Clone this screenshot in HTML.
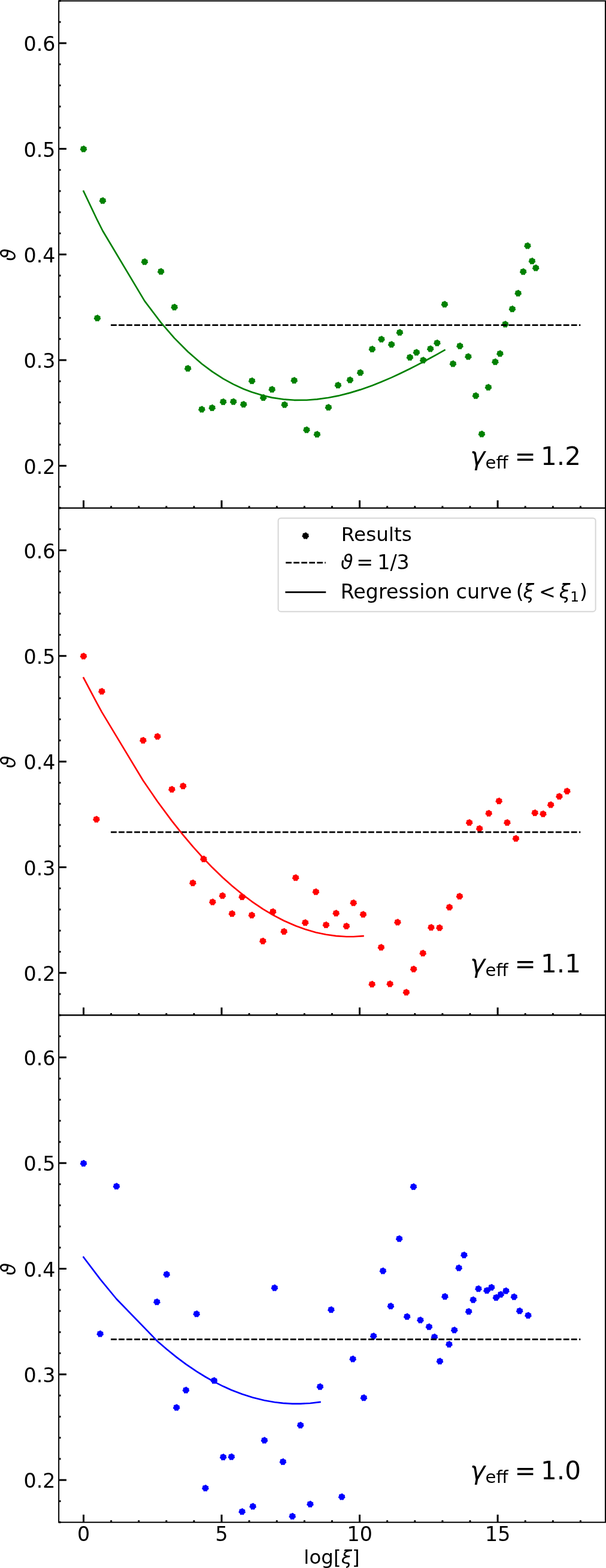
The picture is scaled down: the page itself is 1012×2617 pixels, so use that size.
<!DOCTYPE html>
<html lang="en"><head><meta charset="utf-8"><title>theta vs log xi</title>
<style>html,body{margin:0;padding:0;background:#fff}svg{display:block}</style></head>
<body>
<svg width="1012" height="2617" viewBox="0 0 1012 2617" font-family="DejaVu Sans, Liberation Sans, sans-serif">
<rect width="1012" height="2617" fill="#fff"/>
<defs><g id="mk"><circle r="4.7"/><circle r="4.9" fill="none" stroke-width="1.7" stroke-dasharray="2 2.4" /></g></defs>
<g id="panel1">
<text x="92.5" y="790.67" font-size="33.33" text-anchor="end">0.2</text>
<text x="92.5" y="614.33" font-size="33.33" text-anchor="end">0.3</text>
<text x="92.5" y="438.00" font-size="33.33" text-anchor="end">0.4</text>
<text x="92.5" y="261.67" font-size="33.33" text-anchor="end">0.5</text>
<text x="92.5" y="85.33" font-size="33.33" text-anchor="end">0.6</text>
<g stroke="#000" fill="none"><path d="M98.15 847.90h3.4" stroke-width="3"/><path d="M98.15 812.63h3.4" stroke-width="3"/><path d="M98.15 777.37h12.8" stroke-width="3"/><path d="M98.15 742.10h3.4" stroke-width="3"/><path d="M98.15 706.83h3.4" stroke-width="3"/><path d="M98.15 671.57h3.4" stroke-width="3"/><path d="M98.15 636.30h3.4" stroke-width="3"/><path d="M98.15 601.03h12.8" stroke-width="3"/><path d="M98.15 565.77h3.4" stroke-width="3"/><path d="M98.15 530.50h3.4" stroke-width="3"/><path d="M98.15 495.23h3.4" stroke-width="3"/><path d="M98.15 459.97h3.4" stroke-width="3"/><path d="M98.15 424.70h12.8" stroke-width="3"/><path d="M98.15 389.43h3.4" stroke-width="3"/><path d="M98.15 354.17h3.4" stroke-width="3"/><path d="M98.15 318.90h3.4" stroke-width="3"/><path d="M98.15 283.63h3.4" stroke-width="3"/><path d="M98.15 248.37h12.8" stroke-width="3"/><path d="M98.15 213.10h3.4" stroke-width="3"/><path d="M98.15 177.83h3.4" stroke-width="3"/><path d="M98.15 142.57h3.4" stroke-width="3"/><path d="M98.15 107.30h3.4" stroke-width="3"/><path d="M98.15 72.03h12.8" stroke-width="3"/><path d="M98.15 36.77h3.4" stroke-width="3"/><path d="M98.15 1.50h3.4" stroke-width="3"/><path d="M139.55 847.90v-12.8" stroke-width="3"/><path d="M185.66 847.90v-3.4" stroke-width="3"/><path d="M231.76 847.90v-3.4" stroke-width="3"/><path d="M277.87 847.90v-3.4" stroke-width="3"/><path d="M323.97 847.90v-3.4" stroke-width="3"/><path d="M370.07 847.90v-12.8" stroke-width="3"/><path d="M416.18 847.90v-3.4" stroke-width="3"/><path d="M462.28 847.90v-3.4" stroke-width="3"/><path d="M508.39 847.90v-3.4" stroke-width="3"/><path d="M554.50 847.90v-3.4" stroke-width="3"/><path d="M600.60 847.90v-12.8" stroke-width="3"/><path d="M646.70 847.90v-3.4" stroke-width="3"/><path d="M692.81 847.90v-3.4" stroke-width="3"/><path d="M738.91 847.90v-3.4" stroke-width="3"/><path d="M785.02 847.90v-3.4" stroke-width="3"/><path d="M831.12 847.90v-12.8" stroke-width="3"/><path d="M877.23 847.90v-3.4" stroke-width="3"/><path d="M923.34 847.90v-3.4" stroke-width="3"/><path d="M969.44 847.90v-3.4" stroke-width="3"/></g>
<g><use href="#mk" x="139.50" y="248.75" fill="#008000" stroke="#008000"/><use href="#mk" x="171.50" y="335.00" fill="#008000" stroke="#008000"/><use href="#mk" x="241.50" y="437.00" fill="#008000" stroke="#008000"/><use href="#mk" x="268.75" y="453.25" fill="#008000" stroke="#008000"/><use href="#mk" x="162.50" y="531.00" fill="#008000" stroke="#008000"/><use href="#mk" x="291.25" y="512.75" fill="#008000" stroke="#008000"/><use href="#mk" x="313.75" y="615.00" fill="#008000" stroke="#008000"/><use href="#mk" x="337.00" y="683.25" fill="#008000" stroke="#008000"/><use href="#mk" x="354.25" y="680.75" fill="#008000" stroke="#008000"/><use href="#mk" x="372.75" y="670.75" fill="#008000" stroke="#008000"/><use href="#mk" x="389.75" y="670.50" fill="#008000" stroke="#008000"/><use href="#mk" x="406.75" y="675.00" fill="#008000" stroke="#008000"/><use href="#mk" x="420.75" y="635.75" fill="#008000" stroke="#008000"/><use href="#mk" x="439.75" y="663.75" fill="#008000" stroke="#008000"/><use href="#mk" x="454.25" y="650.00" fill="#008000" stroke="#008000"/><use href="#mk" x="475.25" y="675.50" fill="#008000" stroke="#008000"/><use href="#mk" x="491.25" y="635.00" fill="#008000" stroke="#008000"/><use href="#mk" x="512.00" y="717.50" fill="#008000" stroke="#008000"/><use href="#mk" x="529.50" y="725.00" fill="#008000" stroke="#008000"/><use href="#mk" x="548.50" y="680.00" fill="#008000" stroke="#008000"/><use href="#mk" x="564.50" y="643.00" fill="#008000" stroke="#008000"/><use href="#mk" x="584.50" y="634.25" fill="#008000" stroke="#008000"/><use href="#mk" x="601.75" y="622.00" fill="#008000" stroke="#008000"/><use href="#mk" x="621.50" y="582.75" fill="#008000" stroke="#008000"/><use href="#mk" x="637.00" y="566.25" fill="#008000" stroke="#008000"/><use href="#mk" x="653.75" y="575.00" fill="#008000" stroke="#008000"/><use href="#mk" x="667.50" y="555.00" fill="#008000" stroke="#008000"/><use href="#mk" x="684.50" y="596.50" fill="#008000" stroke="#008000"/><use href="#mk" x="695.50" y="588.25" fill="#008000" stroke="#008000"/><use href="#mk" x="706.75" y="601.25" fill="#008000" stroke="#008000"/><use href="#mk" x="718.75" y="582.25" fill="#008000" stroke="#008000"/><use href="#mk" x="730.00" y="572.50" fill="#008000" stroke="#008000"/><use href="#mk" x="742.50" y="508.00" fill="#008000" stroke="#008000"/><use href="#mk" x="756.50" y="607.25" fill="#008000" stroke="#008000"/><use href="#mk" x="768.00" y="577.50" fill="#008000" stroke="#008000"/><use href="#mk" x="782.00" y="595.25" fill="#008000" stroke="#008000"/><use href="#mk" x="794.50" y="660.50" fill="#008000" stroke="#008000"/><use href="#mk" x="804.50" y="724.50" fill="#008000" stroke="#008000"/><use href="#mk" x="815.50" y="646.50" fill="#008000" stroke="#008000"/><use href="#mk" x="827.00" y="604.00" fill="#008000" stroke="#008000"/><use href="#mk" x="835.00" y="590.25" fill="#008000" stroke="#008000"/><use href="#mk" x="843.75" y="541.25" fill="#008000" stroke="#008000"/><use href="#mk" x="855.50" y="515.75" fill="#008000" stroke="#008000"/><use href="#mk" x="865.25" y="489.50" fill="#008000" stroke="#008000"/><use href="#mk" x="873.75" y="453.50" fill="#008000" stroke="#008000"/><use href="#mk" x="881.00" y="410.25" fill="#008000" stroke="#008000"/><use href="#mk" x="888.50" y="435.75" fill="#008000" stroke="#008000"/><use href="#mk" x="894.75" y="447.25" fill="#008000" stroke="#008000"/></g>
<path d="M185.1 542.56H969.4" fill="none" stroke="#000" stroke-width="2.7" stroke-dasharray="9.75 3.28"/>
<path d="M139.50 319.03 L162.50 367.47 L171.50 385.26 L241.50 502.38 L268.75 538.39 L291.25 564.34 L313.75 587.02 L337.00 607.19 L354.25 620.08 L372.75 632.04 L389.75 641.38 L406.75 649.22 L420.75 654.57 L439.75 660.33 L454.25 663.60 L475.25 666.69 L491.25 667.80 L512.00 667.73 L529.50 666.42 L548.50 663.79 L564.50 660.66 L584.50 655.63 L601.75 650.39 L621.50 643.44 L637.00 637.33 L653.75 630.14 L667.50 623.82 L684.50 615.55 L695.50 609.94 L706.75 604.03 L718.75 597.53 L730.00 591.29 L742.50 584.21" fill="none" stroke="#008000" stroke-width="2.65" stroke-linejoin="round" stroke-linecap="square"/>
<rect x="98.15" y="1.50" width="912.85" height="846.40" fill="none" stroke="#000" stroke-width="2"/>
<text transform="translate(26.2 425.30) rotate(-90)" font-size="33.33" font-style="italic" text-anchor="middle">ϑ</text>
<text y="776.40" font-size="42.2"><tspan x="785.2" font-style="italic">γ</tspan><tspan x="810.6" font-size="29.17" dy="5.8">eff</tspan><tspan x="859.5" dy="-5.8">=</tspan><tspan x="903">1.2</tspan></text>
</g>
<g id="panel2">
<text x="92.5" y="1637.07" font-size="33.33" text-anchor="end">0.2</text>
<text x="92.5" y="1460.73" font-size="33.33" text-anchor="end">0.3</text>
<text x="92.5" y="1284.40" font-size="33.33" text-anchor="end">0.4</text>
<text x="92.5" y="1108.07" font-size="33.33" text-anchor="end">0.5</text>
<text x="92.5" y="931.73" font-size="33.33" text-anchor="end">0.6</text>
<g stroke="#000" fill="none"><path d="M98.15 1694.30h3.4" stroke-width="3"/><path d="M98.15 1659.03h3.4" stroke-width="3"/><path d="M98.15 1623.77h12.8" stroke-width="3"/><path d="M98.15 1588.50h3.4" stroke-width="3"/><path d="M98.15 1553.23h3.4" stroke-width="3"/><path d="M98.15 1517.97h3.4" stroke-width="3"/><path d="M98.15 1482.70h3.4" stroke-width="3"/><path d="M98.15 1447.43h12.8" stroke-width="3"/><path d="M98.15 1412.17h3.4" stroke-width="3"/><path d="M98.15 1376.90h3.4" stroke-width="3"/><path d="M98.15 1341.63h3.4" stroke-width="3"/><path d="M98.15 1306.37h3.4" stroke-width="3"/><path d="M98.15 1271.10h12.8" stroke-width="3"/><path d="M98.15 1235.83h3.4" stroke-width="3"/><path d="M98.15 1200.57h3.4" stroke-width="3"/><path d="M98.15 1165.30h3.4" stroke-width="3"/><path d="M98.15 1130.03h3.4" stroke-width="3"/><path d="M98.15 1094.77h12.8" stroke-width="3"/><path d="M98.15 1059.50h3.4" stroke-width="3"/><path d="M98.15 1024.23h3.4" stroke-width="3"/><path d="M98.15 988.97h3.4" stroke-width="3"/><path d="M98.15 953.70h3.4" stroke-width="3"/><path d="M98.15 918.43h12.8" stroke-width="3"/><path d="M98.15 883.17h3.4" stroke-width="3"/><path d="M98.15 847.90h3.4" stroke-width="3"/><path d="M139.55 1694.30v-12.8" stroke-width="3"/><path d="M185.66 1694.30v-3.4" stroke-width="3"/><path d="M231.76 1694.30v-3.4" stroke-width="3"/><path d="M277.87 1694.30v-3.4" stroke-width="3"/><path d="M323.97 1694.30v-3.4" stroke-width="3"/><path d="M370.07 1694.30v-12.8" stroke-width="3"/><path d="M416.18 1694.30v-3.4" stroke-width="3"/><path d="M462.28 1694.30v-3.4" stroke-width="3"/><path d="M508.39 1694.30v-3.4" stroke-width="3"/><path d="M554.50 1694.30v-3.4" stroke-width="3"/><path d="M600.60 1694.30v-12.8" stroke-width="3"/><path d="M646.70 1694.30v-3.4" stroke-width="3"/><path d="M692.81 1694.30v-3.4" stroke-width="3"/><path d="M738.91 1694.30v-3.4" stroke-width="3"/><path d="M785.02 1694.30v-3.4" stroke-width="3"/><path d="M831.12 1694.30v-12.8" stroke-width="3"/><path d="M877.23 1694.30v-3.4" stroke-width="3"/><path d="M923.34 1694.30v-3.4" stroke-width="3"/><path d="M969.44 1694.30v-3.4" stroke-width="3"/></g>
<g><use href="#mk" x="139.50" y="1095.25" fill="#ff0000" stroke="#ff0000"/><use href="#mk" x="170.00" y="1154.00" fill="#ff0000" stroke="#ff0000"/><use href="#mk" x="239.00" y="1235.75" fill="#ff0000" stroke="#ff0000"/><use href="#mk" x="263.00" y="1229.25" fill="#ff0000" stroke="#ff0000"/><use href="#mk" x="287.00" y="1317.50" fill="#ff0000" stroke="#ff0000"/><use href="#mk" x="305.75" y="1312.00" fill="#ff0000" stroke="#ff0000"/><use href="#mk" x="161.00" y="1367.50" fill="#ff0000" stroke="#ff0000"/><use href="#mk" x="340.00" y="1433.75" fill="#ff0000" stroke="#ff0000"/><use href="#mk" x="322.00" y="1473.75" fill="#ff0000" stroke="#ff0000"/><use href="#mk" x="355.00" y="1505.50" fill="#ff0000" stroke="#ff0000"/><use href="#mk" x="371.50" y="1495.00" fill="#ff0000" stroke="#ff0000"/><use href="#mk" x="387.50" y="1525.00" fill="#ff0000" stroke="#ff0000"/><use href="#mk" x="404.25" y="1497.00" fill="#ff0000" stroke="#ff0000"/><use href="#mk" x="420.50" y="1527.50" fill="#ff0000" stroke="#ff0000"/><use href="#mk" x="439.00" y="1570.75" fill="#ff0000" stroke="#ff0000"/><use href="#mk" x="455.75" y="1521.75" fill="#ff0000" stroke="#ff0000"/><use href="#mk" x="474.25" y="1554.75" fill="#ff0000" stroke="#ff0000"/><use href="#mk" x="493.75" y="1465.00" fill="#ff0000" stroke="#ff0000"/><use href="#mk" x="509.75" y="1540.00" fill="#ff0000" stroke="#ff0000"/><use href="#mk" x="527.50" y="1488.50" fill="#ff0000" stroke="#ff0000"/><use href="#mk" x="544.50" y="1543.75" fill="#ff0000" stroke="#ff0000"/><use href="#mk" x="561.25" y="1524.25" fill="#ff0000" stroke="#ff0000"/><use href="#mk" x="578.50" y="1545.75" fill="#ff0000" stroke="#ff0000"/><use href="#mk" x="590.25" y="1507.00" fill="#ff0000" stroke="#ff0000"/><use href="#mk" x="606.50" y="1526.25" fill="#ff0000" stroke="#ff0000"/><use href="#mk" x="621.25" y="1642.75" fill="#ff0000" stroke="#ff0000"/><use href="#mk" x="636.50" y="1581.25" fill="#ff0000" stroke="#ff0000"/><use href="#mk" x="651.25" y="1642.25" fill="#ff0000" stroke="#ff0000"/><use href="#mk" x="664.00" y="1539.25" fill="#ff0000" stroke="#ff0000"/><use href="#mk" x="678.50" y="1656.25" fill="#ff0000" stroke="#ff0000"/><use href="#mk" x="690.75" y="1617.50" fill="#ff0000" stroke="#ff0000"/><use href="#mk" x="706.25" y="1591.00" fill="#ff0000" stroke="#ff0000"/><use href="#mk" x="720.00" y="1548.00" fill="#ff0000" stroke="#ff0000"/><use href="#mk" x="734.00" y="1548.50" fill="#ff0000" stroke="#ff0000"/><use href="#mk" x="750.50" y="1514.25" fill="#ff0000" stroke="#ff0000"/><use href="#mk" x="767.50" y="1496.00" fill="#ff0000" stroke="#ff0000"/><use href="#mk" x="783.75" y="1373.00" fill="#ff0000" stroke="#ff0000"/><use href="#mk" x="800.75" y="1383.00" fill="#ff0000" stroke="#ff0000"/><use href="#mk" x="816.25" y="1357.50" fill="#ff0000" stroke="#ff0000"/><use href="#mk" x="833.25" y="1337.00" fill="#ff0000" stroke="#ff0000"/><use href="#mk" x="847.00" y="1373.00" fill="#ff0000" stroke="#ff0000"/><use href="#mk" x="861.50" y="1399.50" fill="#ff0000" stroke="#ff0000"/><use href="#mk" x="893.25" y="1356.75" fill="#ff0000" stroke="#ff0000"/><use href="#mk" x="907.00" y="1358.50" fill="#ff0000" stroke="#ff0000"/><use href="#mk" x="919.75" y="1343.25" fill="#ff0000" stroke="#ff0000"/><use href="#mk" x="934.00" y="1329.25" fill="#ff0000" stroke="#ff0000"/><use href="#mk" x="947.00" y="1320.50" fill="#ff0000" stroke="#ff0000"/></g>
<path d="M185.1 1388.96H969.4" fill="none" stroke="#000" stroke-width="2.7" stroke-dasharray="9.75 3.28"/>
<path d="M139.50 1131.21 L161.00 1171.94 L170.00 1188.40 L239.00 1302.79 L263.00 1337.71 L287.00 1370.12 L305.75 1393.69 L322.00 1412.88 L340.00 1432.79 L355.00 1448.30 L371.50 1464.23 L387.50 1478.55 L404.25 1492.34 L420.50 1504.55 L439.00 1517.04 L455.75 1527.07 L474.25 1536.73 L493.75 1545.29 L509.75 1551.07 L527.50 1556.18 L544.50 1559.79 L561.25 1562.11 L578.50 1563.22 L590.25 1563.24 L606.50 1562.27" fill="none" stroke="#ff0000" stroke-width="2.65" stroke-linejoin="round" stroke-linecap="square"/>
<rect x="98.15" y="847.90" width="912.85" height="846.40" fill="none" stroke="#000" stroke-width="2"/>
<text transform="translate(26.2 1271.70) rotate(-90)" font-size="33.33" font-style="italic" text-anchor="middle">ϑ</text>
<text y="1622.80" font-size="42.2"><tspan x="785.2" font-style="italic">γ</tspan><tspan x="810.6" font-size="29.17" dy="5.8">eff</tspan><tspan x="859.5" dy="-5.8">=</tspan><tspan x="903">1.1</tspan></text>
</g>
<g id="panel3">
<text x="92.5" y="2483.47" font-size="33.33" text-anchor="end">0.2</text>
<text x="92.5" y="2307.13" font-size="33.33" text-anchor="end">0.3</text>
<text x="92.5" y="2130.80" font-size="33.33" text-anchor="end">0.4</text>
<text x="92.5" y="1954.47" font-size="33.33" text-anchor="end">0.5</text>
<text x="92.5" y="1778.13" font-size="33.33" text-anchor="end">0.6</text>
<g stroke="#000" fill="none"><path d="M98.15 2540.70h3.4" stroke-width="3"/><path d="M98.15 2505.43h3.4" stroke-width="3"/><path d="M98.15 2470.17h12.8" stroke-width="3"/><path d="M98.15 2434.90h3.4" stroke-width="3"/><path d="M98.15 2399.63h3.4" stroke-width="3"/><path d="M98.15 2364.37h3.4" stroke-width="3"/><path d="M98.15 2329.10h3.4" stroke-width="3"/><path d="M98.15 2293.83h12.8" stroke-width="3"/><path d="M98.15 2258.57h3.4" stroke-width="3"/><path d="M98.15 2223.30h3.4" stroke-width="3"/><path d="M98.15 2188.03h3.4" stroke-width="3"/><path d="M98.15 2152.77h3.4" stroke-width="3"/><path d="M98.15 2117.50h12.8" stroke-width="3"/><path d="M98.15 2082.23h3.4" stroke-width="3"/><path d="M98.15 2046.97h3.4" stroke-width="3"/><path d="M98.15 2011.70h3.4" stroke-width="3"/><path d="M98.15 1976.43h3.4" stroke-width="3"/><path d="M98.15 1941.17h12.8" stroke-width="3"/><path d="M98.15 1905.90h3.4" stroke-width="3"/><path d="M98.15 1870.63h3.4" stroke-width="3"/><path d="M98.15 1835.37h3.4" stroke-width="3"/><path d="M98.15 1800.10h3.4" stroke-width="3"/><path d="M98.15 1764.83h12.8" stroke-width="3"/><path d="M98.15 1729.57h3.4" stroke-width="3"/><path d="M98.15 1694.30h3.4" stroke-width="3"/><path d="M139.55 2540.70v-12.8" stroke-width="3"/><path d="M185.66 2540.70v-3.4" stroke-width="3"/><path d="M231.76 2540.70v-3.4" stroke-width="3"/><path d="M277.87 2540.70v-3.4" stroke-width="3"/><path d="M323.97 2540.70v-3.4" stroke-width="3"/><path d="M370.07 2540.70v-12.8" stroke-width="3"/><path d="M416.18 2540.70v-3.4" stroke-width="3"/><path d="M462.28 2540.70v-3.4" stroke-width="3"/><path d="M508.39 2540.70v-3.4" stroke-width="3"/><path d="M554.50 2540.70v-3.4" stroke-width="3"/><path d="M600.60 2540.70v-12.8" stroke-width="3"/><path d="M646.70 2540.70v-3.4" stroke-width="3"/><path d="M692.81 2540.70v-3.4" stroke-width="3"/><path d="M738.91 2540.70v-3.4" stroke-width="3"/><path d="M785.02 2540.70v-3.4" stroke-width="3"/><path d="M831.12 2540.70v-12.8" stroke-width="3"/><path d="M877.23 2540.70v-3.4" stroke-width="3"/><path d="M923.34 2540.70v-3.4" stroke-width="3"/><path d="M969.44 2540.70v-3.4" stroke-width="3"/></g>
<g><use href="#mk" x="139.50" y="1941.75" fill="#0000ff" stroke="#0000ff"/><use href="#mk" x="194.50" y="1980.00" fill="#0000ff" stroke="#0000ff"/><use href="#mk" x="278.25" y="2127.00" fill="#0000ff" stroke="#0000ff"/><use href="#mk" x="262.00" y="2173.00" fill="#0000ff" stroke="#0000ff"/><use href="#mk" x="167.25" y="2226.25" fill="#0000ff" stroke="#0000ff"/><use href="#mk" x="328.25" y="2193.00" fill="#0000ff" stroke="#0000ff"/><use href="#mk" x="310.50" y="2320.25" fill="#0000ff" stroke="#0000ff"/><use href="#mk" x="294.75" y="2349.25" fill="#0000ff" stroke="#0000ff"/><use href="#mk" x="357.50" y="2304.25" fill="#0000ff" stroke="#0000ff"/><use href="#mk" x="343.00" y="2483.75" fill="#0000ff" stroke="#0000ff"/><use href="#mk" x="372.75" y="2432.00" fill="#0000ff" stroke="#0000ff"/><use href="#mk" x="386.50" y="2431.50" fill="#0000ff" stroke="#0000ff"/><use href="#mk" x="404.25" y="2523.00" fill="#0000ff" stroke="#0000ff"/><use href="#mk" x="422.25" y="2514.25" fill="#0000ff" stroke="#0000ff"/><use href="#mk" x="441.50" y="2404.00" fill="#0000ff" stroke="#0000ff"/><use href="#mk" x="472.50" y="2439.75" fill="#0000ff" stroke="#0000ff"/><use href="#mk" x="488.25" y="2530.75" fill="#0000ff" stroke="#0000ff"/><use href="#mk" x="501.75" y="2378.75" fill="#0000ff" stroke="#0000ff"/><use href="#mk" x="518.00" y="2510.50" fill="#0000ff" stroke="#0000ff"/><use href="#mk" x="534.50" y="2314.50" fill="#0000ff" stroke="#0000ff"/><use href="#mk" x="458.50" y="2149.50" fill="#0000ff" stroke="#0000ff"/><use href="#mk" x="553.00" y="2186.00" fill="#0000ff" stroke="#0000ff"/><use href="#mk" x="589.25" y="2268.25" fill="#0000ff" stroke="#0000ff"/><use href="#mk" x="570.75" y="2498.25" fill="#0000ff" stroke="#0000ff"/><use href="#mk" x="607.50" y="2333.00" fill="#0000ff" stroke="#0000ff"/><use href="#mk" x="690.50" y="1980.75" fill="#0000ff" stroke="#0000ff"/><use href="#mk" x="666.75" y="2067.50" fill="#0000ff" stroke="#0000ff"/><use href="#mk" x="639.50" y="2121.25" fill="#0000ff" stroke="#0000ff"/><use href="#mk" x="652.50" y="2180.00" fill="#0000ff" stroke="#0000ff"/><use href="#mk" x="679.75" y="2197.50" fill="#0000ff" stroke="#0000ff"/><use href="#mk" x="702.00" y="2203.25" fill="#0000ff" stroke="#0000ff"/><use href="#mk" x="743.00" y="2164.00" fill="#0000ff" stroke="#0000ff"/><use href="#mk" x="766.25" y="2116.25" fill="#0000ff" stroke="#0000ff"/><use href="#mk" x="775.00" y="2094.75" fill="#0000ff" stroke="#0000ff"/><use href="#mk" x="782.75" y="2189.00" fill="#0000ff" stroke="#0000ff"/><use href="#mk" x="790.25" y="2169.50" fill="#0000ff" stroke="#0000ff"/><use href="#mk" x="799.00" y="2151.00" fill="#0000ff" stroke="#0000ff"/><use href="#mk" x="813.00" y="2154.00" fill="#0000ff" stroke="#0000ff"/><use href="#mk" x="820.75" y="2148.75" fill="#0000ff" stroke="#0000ff"/><use href="#mk" x="828.50" y="2165.75" fill="#0000ff" stroke="#0000ff"/><use href="#mk" x="836.25" y="2160.50" fill="#0000ff" stroke="#0000ff"/><use href="#mk" x="845.00" y="2154.50" fill="#0000ff" stroke="#0000ff"/><use href="#mk" x="623.75" y="2230.00" fill="#0000ff" stroke="#0000ff"/><use href="#mk" x="716.50" y="2214.50" fill="#0000ff" stroke="#0000ff"/><use href="#mk" x="725.50" y="2231.50" fill="#0000ff" stroke="#0000ff"/><use href="#mk" x="734.50" y="2272.00" fill="#0000ff" stroke="#0000ff"/><use href="#mk" x="750.00" y="2243.75" fill="#0000ff" stroke="#0000ff"/><use href="#mk" x="758.75" y="2220.00" fill="#0000ff" stroke="#0000ff"/><use href="#mk" x="858.50" y="2164.50" fill="#0000ff" stroke="#0000ff"/><use href="#mk" x="867.75" y="2188.00" fill="#0000ff" stroke="#0000ff"/><use href="#mk" x="882.00" y="2195.50" fill="#0000ff" stroke="#0000ff"/></g>
<path d="M185.1 2235.36H969.4" fill="none" stroke="#000" stroke-width="2.7" stroke-dasharray="9.75 3.28"/>
<path d="M139.50 2098.23 L167.25 2134.89 L194.50 2167.99 L262.00 2237.64 L278.25 2251.78 L294.75 2265.10 L310.50 2276.83 L328.25 2288.90 L343.00 2298.00 L357.50 2306.14 L372.75 2313.82 L386.50 2319.97 L404.25 2326.83 L422.25 2332.55 L441.50 2337.29 L458.50 2340.28 L472.50 2341.90 L488.25 2342.82 L501.75 2342.85 L518.00 2341.96 L534.50 2340.00" fill="none" stroke="#0000ff" stroke-width="2.65" stroke-linejoin="round" stroke-linecap="square"/>
<rect x="98.15" y="1694.30" width="912.85" height="846.40" fill="none" stroke="#000" stroke-width="2"/>
<text transform="translate(26.2 2118.10) rotate(-90)" font-size="33.33" font-style="italic" text-anchor="middle">ϑ</text>
<text y="2469.20" font-size="42.2"><tspan x="785.2" font-style="italic">γ</tspan><tspan x="810.6" font-size="29.17" dy="5.8">eff</tspan><tspan x="859.5" dy="-5.8">=</tspan><tspan x="903">1.0</tspan></text>
</g>
<text x="139.65" y="2572.4" font-size="33.33" text-anchor="middle">0</text>
<text x="370.18" y="2572.4" font-size="33.33" text-anchor="middle">5</text>
<text x="600.70" y="2572.4" font-size="33.33" text-anchor="middle">10</text>
<text x="831.23" y="2572.4" font-size="33.33" text-anchor="middle">15</text>
<text x="554" y="2609.8" font-size="32.6" text-anchor="middle">log[<tspan font-style="italic">ξ</tspan>]</text>
<g id="legend">
<rect x="464.6" y="864.7" width="530" height="156" rx="4.5" fill="#fff" fill-opacity="0.8" stroke="#ccc" stroke-opacity="0.8" stroke-width="2"/>
<use href="#mk" x="510.20" y="894.30" fill="#000" stroke="#000"/>
<path d="M477.2 939.2H543.8" fill="none" stroke="#000" stroke-width="2.7" stroke-dasharray="9.75 3.28"/>
<path d="M476.4 988.4H544.3" fill="none" stroke="#000" stroke-width="2.65"/>
<text x="569.8" y="902.5" font-size="32.7">Results</text>
<text y="949.5" font-size="33.33"><tspan x="569" font-style="italic">ϑ</tspan><tspan x="595.3">=</tspan><tspan x="630.2">1/3</tspan></text>
<text y="998.6" font-size="33.33"><tspan x="568.7">Regression curve</tspan><tspan x="861.8">(</tspan><tspan x="873.5" font-style="italic">ξ</tspan><tspan x="900.1">&lt;</tspan><tspan x="933.7" font-style="italic">ξ</tspan><tspan x="952.3" font-size="23.33" dy="5">1</tspan><tspan x="967.9" dy="-5">)</tspan></text>
</g>
</svg>
</body></html>
